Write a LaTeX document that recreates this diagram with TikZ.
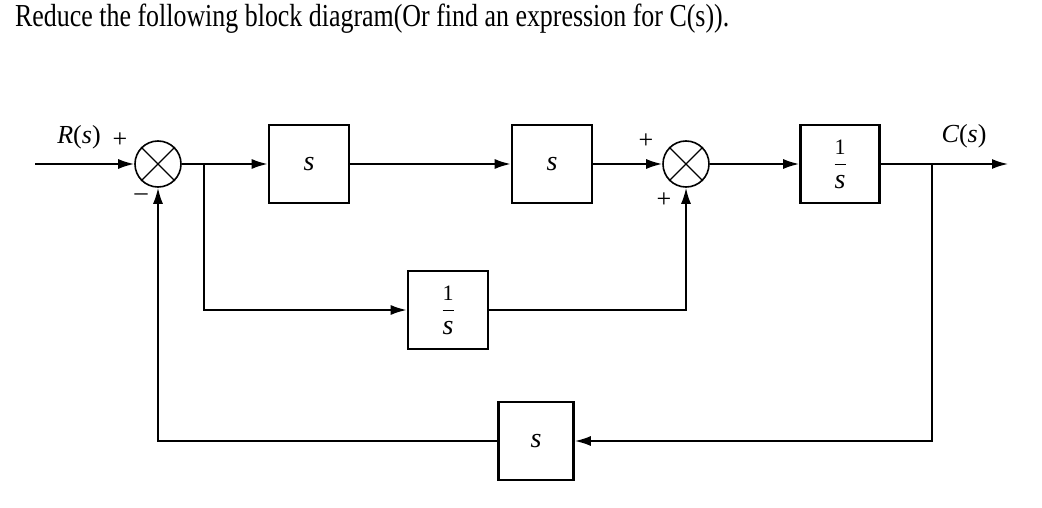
\documentclass[tikz,border=0pt]{standalone}
\usepackage{amsmath}
\usepackage{fontspec}
\setmainfont{Liberation Serif}
\usetikzlibrary{calc,arrows.meta,positioning}

\newcommand{\frs}{$\dfrac{\text{\fontsize{22}{24}\selectfont 1}}{\text{\fontsize{28}{30}\selectfont\itshape s}}$}

\begin{document}
\begin{tikzpicture}[x=1pt,y=-1pt,
	blk/.style = {draw, line width=2.6pt, minimum width=#1pt, minimum height=78pt,
		inner sep=0pt, font=\fontsize{28}{30}\selectfont},
	blk/.default = 80,
	sumn/.style = {draw, circle, line width=1.6pt, minimum size=46pt, inner sep=0pt},
	sig/.style = {line width=1.8pt},
	arr/.style = {sig, -{Latex[length=16pt,width=10pt]}},
	lbl/.style = {font=\fontsize{26}{28}\selectfont, inner sep=0pt}]
	
	\useasboundingbox (0,0) rectangle (1042,508);
	
	\node[anchor=base west, inner sep=0pt, font=\fontsize{32}{36}\selectfont] (title) at (15,27)
		{\scalebox{0.81}[1]{Reduce the following block diagram(Or find an expression for C(s)).}};
	
	% forward path
	\coordinate (in) at (35,164);
	\node[sumn] (sum1) at (158,164) {};
	\coordinate (split1) at (204,164);
	\node[blk] (b1) at (309,164) {\textit{s}};
	\node[blk] (b2) at (552,164) {\textit{s}};
	\node[sumn] (sum2) at (686,164) {};
	\node[blk=79] (b3) at (840,164) {\frs};
	\coordinate (split2) at (932,164);
	\coordinate (out) at (1008,164);
	
	% inner branch and feedback
	\node[blk] (b4) at (448,310) {\frs};
	\node[blk=75] (b5) at (536,441) {\textit{s}};
	
	% crosses in the summing points
	\foreach \s in {sum1,sum2}
	{
		\draw[line width=1.2pt] (\s.45) -- (\s.225) (\s.135) -- (\s.315);
	}
	
	\draw[arr] (in) -- (sum1);
	\draw[arr] (sum1) -- (b1);
	\draw[arr] (b1) -- (b2);
	\draw[arr] (b2) -- (sum2);
	\draw[arr] (sum2) -- (b3);
	\draw[arr] (b3) -- (out);
	\draw[arr] (split1) |- (b4);
	\draw[arr] (b4) -| (sum2);
	\draw[arr] (split2) |- (b5);
	\draw[arr] (b5) -| (sum1);
	
	% signs and signals
	\node[lbl] (rs) at (79,137) {\textit{R}(\textit{s})};
	\node[lbl] (p1) at (120,140) {+};
	\node[lbl] (m1) at (141,197) {\textendash};
	\node[lbl] (p2) at (646,141) {+};
	\node[lbl] (p3) at (664,200) {+};
	\node[lbl] (cs) at (964,136) {\textit{C}(\textit{s})};
\end{tikzpicture}
\end{document}
